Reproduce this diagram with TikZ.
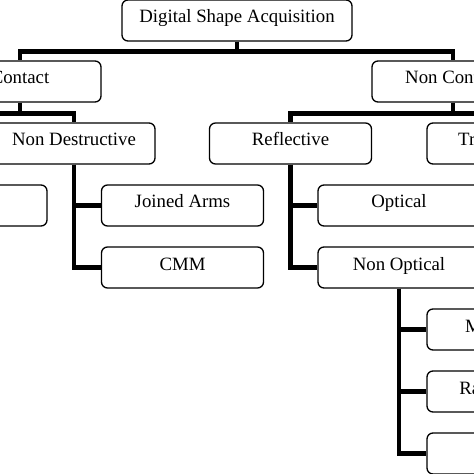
\documentclass[tikz,border=0pt]{standalone}
\usepackage{fontspec}
\setmainfont{Liberation Serif}
\begin{document}
\begin{tikzpicture}[x=1bp,y=-1bp,line join=bevel,
  block/.style={draw,rounded corners=6bp,line width=1.3bp,fill=white,
    minimum width=162bp,minimum height=41bp,inner sep=0bp,
    text height=13bp,text depth=8bp,
    font=\fontsize{18.8bp}{22bp}\selectfont},
  branch/.style={line width=4.5bp,line join=miter}]
  \useasboundingbox (0,0) rectangle (474,474);
%%
  % Node: acquisition
  \node[block,minimum width=230bp] (acq) at (237,20.5) {Digital Shape Acquisition};
  % Node: contact
  \node[block] (contact) at (20,81.5) {Contact};
  % Node: noncontact
  \node[block] (noncontact) at (453,81.5) {Non Contact};
  % Node: destructive (outside the frame)
  \coordinate (destr) at (-142,123);
  % Node: nondestructive
  \node[block] (nondestr) at (74,143.5) {Non Destructive};
  % Node: reflective
  \node[block] (refl) at (290.5,143.5) {Reflective};
  % Node: transmissive
  \node[block] (trans) at (508,143.5) {Transmissive};
  % Node: slicing
  \node[block] (slice) at (-34,205.5) {};
  % Node: joined arms
  \node[block] (joined) at (182.5,205.5) {Joined Arms};
  % Node: cmm
  \node[block] (cmm) at (182.5,267.5) {CMM};
  % Node: optical
  \node[block] (optical) at (399,205.5) {Optical};
  % Node: nonoptical
  \node[block] (nonoptical) at (399,267.5) {Non Optical};
  % Node: microwave, radiography, sonar
  \node[block] (micro) at (508,329.5) {Microwave};
  \node[block] (radio) at (508,391.5) {Radiography};
  \node[block] (sonar) at (508,453.5) {Sonar};
%%
  % Edge: acquisition -> contact, noncontact
  \draw[branch] (acq.south) -- ++(0,10) -| (contact.north);
  \draw[branch] (acq.south) -- ++(0,10) -| (noncontact.north);
  % Edge: contact -> destructive, nondestructive
  \draw[branch] (contact.south) -- ++(0,11) -| (destr);
  \draw[branch] (contact.south) -- ++(0,11) -| (nondestr.north);
  % Edge: noncontact -> reflective, transmissive
  \draw[branch] (noncontact.south) -- ++(0,11) -| (refl.north);
  \draw[branch] (noncontact.south) -- ++(0,11) -| (trans.north);
  % Edge: destructive -> slicing
  \draw[branch] (destr) |- (slice.west);
  % Edge: nondestructive -> joined arms, cmm
  \draw[branch] (nondestr.south) |- (joined.west);
  \draw[branch] (nondestr.south) |- (cmm.west);
  % Edge: reflective -> optical, nonoptical
  \draw[branch] (refl.south) |- (optical.west);
  \draw[branch] (refl.south) |- (nonoptical.west);
  % Edge: nonoptical -> microwave, radiography, sonar
  \draw[branch] (nonoptical.south) |- (micro.west);
  \draw[branch] (nonoptical.south) |- (radio.west);
  \draw[branch] (nonoptical.south) |- (sonar.west);
%
\end{tikzpicture}
\end{document}
